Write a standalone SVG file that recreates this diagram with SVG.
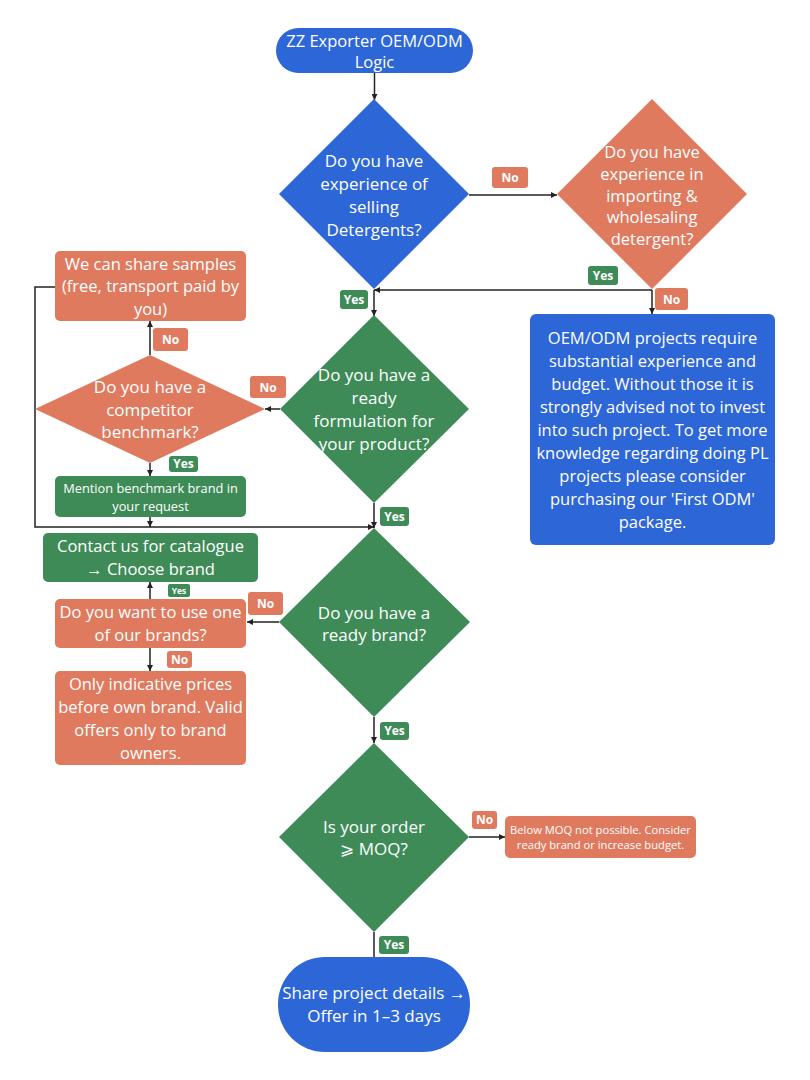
<svg xmlns="http://www.w3.org/2000/svg" width="810" height="1080" viewBox="0 0 810 1080">
<defs>
<marker id="ah" markerUnits="userSpaceOnUse" markerWidth="6" markerHeight="6" refX="6" refY="3" orient="auto"><path d="M0,0 L6,3 L0,6 z" fill="#222"/></marker>
<style>
.blue{fill:#2D66D6}
.orange{fill:#E07A5F}
.green{fill:#3E8B58}
.t{font-family:"Open Sans","Liberation Sans",Arial,sans-serif;fill:#fff;text-anchor:middle}
.f17{font-size:17px}
.f16{font-size:16.5px}
.f13{font-size:12.8px}
.f11{font-size:11.2px}
.lb{font-family:"Open Sans","Liberation Sans",Arial,sans-serif;fill:#fff;text-anchor:middle;font-weight:bold;font-size:12px}
.conn{fill:none;stroke:#222;stroke-width:1.5}
</style>
</defs>
<rect width="810" height="1080" fill="#fff"/>
<g id="connectors">
<path class="conn" d="M374.5,73 V100" marker-end="url(#ah)"/>
<path class="conn" d="M469,195 H557" marker-end="url(#ah)"/>
<path class="conn" d="M652,290 H374" marker-end="url(#ah)"/>
<path class="conn" d="M374,290 V316" marker-end="url(#ah)"/>
<path class="conn" d="M652,290 V314" marker-end="url(#ah)"/>
<path class="conn" d="M280,409 H265" marker-end="url(#ah)"/>
<path class="conn" d="M150,355 V321" marker-end="url(#ah)"/>
<path class="conn" d="M55,287 H35 V527 H374" marker-end="url(#ah)"/>
<path class="conn" d="M150,463 V476" marker-end="url(#ah)"/>
<path class="conn" d="M150,517 V527" marker-end="url(#ah)"/>
<path class="conn" d="M374,503 V528" marker-end="url(#ah)"/>
<path class="conn" d="M279,622 H247" marker-end="url(#ah)"/>
<path class="conn" d="M150,599 V582" marker-end="url(#ah)"/>
<path class="conn" d="M150,648 V671" marker-end="url(#ah)"/>
<path class="conn" d="M374,717 V743" marker-end="url(#ah)"/>
<path class="conn" d="M469,837 H505" marker-end="url(#ah)"/>
<path class="conn" d="M374,932 V957"/>
</g>
<g id="labels">
<rect class="orange" x="492" y="167" width="36" height="21" rx="3"/><text class="lb" x="510" y="182">No</text>
<rect class="green" x="588" y="266" width="30" height="19" rx="3"/><text class="lb" x="603" y="280">Yes</text>
<rect class="orange" x="655" y="288" width="33" height="22" rx="3"/><text class="lb" x="671.5" y="304">No</text>
<rect class="green" x="340" y="290" width="28" height="19" rx="3"/><text class="lb" x="354" y="304">Yes</text>
<rect class="orange" x="250" y="376" width="36" height="22" rx="3"/><text class="lb" x="268" y="392">No</text>
<rect class="orange" x="153" y="328" width="35" height="23" rx="3"/><text class="lb" x="170.5" y="344">No</text>
<rect class="green" x="169" y="456" width="29" height="16" rx="3"/><text class="lb" x="183.5" y="468">Yes</text>
<rect class="green" x="380" y="507" width="29" height="19" rx="3"/><text class="lb" x="394.5" y="521">Yes</text>
<rect class="orange" x="248" y="592" width="35" height="23" rx="3"/><text class="lb" x="265.5" y="608">No</text>
<rect class="green" x="168" y="584" width="22" height="13" rx="2"/><text class="lb" x="179" y="594" style="font-size:8.5px">Yes</text>
<rect class="orange" x="167" y="651" width="25" height="17" rx="3"/><text class="lb" x="179.5" y="664">No</text>
<rect class="green" x="380" y="722" width="29" height="18" rx="3"/><text class="lb" x="394.5" y="735">Yes</text>
<rect class="orange" x="472" y="811" width="25" height="18" rx="3"/><text class="lb" x="484.5" y="824">No</text>
<rect class="green" x="379" y="936" width="30" height="18" rx="3"/><text class="lb" x="394" y="949">Yes</text>
</g>
<g id="start">
<rect class="blue" x="276" y="28" width="197" height="45" rx="22.5"/>
<text class="t f16"><tspan x="374.5" y="47">ZZ Exporter OEM/ODM</tspan><tspan x="374.5" y="68">Logic</tspan></text>
</g>
<g id="q-selling">
<polygon class="blue" points="374,99 469,194 374,289 279,194"/>
<text class="t f17"><tspan x="374" y="167">Do you have</tspan><tspan x="374" y="190">experience of</tspan><tspan x="374" y="213">selling</tspan><tspan x="374" y="236">Detergents?</tspan></text>
</g>
<g id="q-importing">
<polygon class="orange" points="652,99 747,194 652,289 557,194"/>
<text class="t f16"><tspan x="652" y="158">Do you have</tspan><tspan x="652" y="180">experience in</tspan><tspan x="652" y="202">importing &amp;</tspan><tspan x="652" y="223">wholesaling</tspan><tspan x="652" y="245">detergent?</tspan></text>
</g>
<g id="advice">
<rect class="blue" x="530" y="314" width="245" height="231" rx="6"/>
<text class="t f16"><tspan x="652.5" y="344">OEM/ODM projects require</tspan><tspan x="652.5" y="367">substantial experience and</tspan><tspan x="652.5" y="390">budget. Without those it is</tspan><tspan x="652.5" y="413">strongly advised not to invest</tspan><tspan x="652.5" y="436">into such project. To get more</tspan><tspan x="652.5" y="459">knowledge regarding doing PL</tspan><tspan x="652.5" y="482">projects please consider</tspan><tspan x="652.5" y="505">purchasing our 'First ODM'</tspan><tspan x="652.5" y="528">package.</tspan></text>
</g>
<g id="q-formulation">
<polygon class="green" points="374,315 469,409 374,503 280,409"/>
<text class="t f17"><tspan x="374" y="381">Do you have a</tspan><tspan x="374" y="404">ready</tspan><tspan x="374" y="427">formulation for</tspan><tspan x="374" y="450">your product?</tspan></text>
</g>
<g id="q-benchmark">
<polygon class="orange" points="150,355 265,409 150,463 35,409"/>
<text class="t f17"><tspan x="150" y="393">Do you have a</tspan><tspan x="150" y="416">competitor</tspan><tspan x="150" y="438">benchmark?</tspan></text>
</g>
<g id="samples">
<rect class="orange" x="55" y="251" width="191" height="70" rx="5"/>
<text class="t f16"><tspan x="150.5" y="270">We can share samples</tspan><tspan x="150.5" y="292">(free, transport paid by</tspan><tspan x="150.5" y="315">you)</tspan></text>
</g>
<g id="mention">
<rect class="green" x="55" y="476" width="191" height="41" rx="5"/>
<text class="t f13"><tspan x="150.5" y="493">Mention benchmark brand in</tspan><tspan x="150.5" y="511">your request</tspan></text>
</g>
<g id="q-brand">
<polygon class="green" points="374,528 470,622 374,717 279,622"/>
<text class="t f17"><tspan x="374" y="619">Do you have a</tspan><tspan x="374" y="641">ready brand?</tspan></text>
</g>
<g id="catalogue">
<rect class="green" x="43" y="533" width="215" height="49" rx="5"/>
<text class="t f16"><tspan x="150.5" y="552">Contact us for catalogue</tspan><tspan x="150.5" y="575">→ Choose brand</tspan></text>
</g>
<g id="q-ourbrands">
<rect class="orange" x="55" y="599" width="191" height="49" rx="5"/>
<text class="t f16"><tspan x="150.5" y="618">Do you want to use one</tspan><tspan x="150.5" y="641">of our brands?</tspan></text>
</g>
<g id="indicative">
<rect class="orange" x="55" y="671" width="191" height="94" rx="5"/>
<text class="t f16"><tspan x="150.5" y="690">Only indicative prices</tspan><tspan x="150.5" y="713">before own brand. Valid</tspan><tspan x="150.5" y="736">offers only to brand</tspan><tspan x="150.5" y="759">owners.</tspan></text>
</g>
<g id="q-moq">
<polygon class="green" points="374,743 469,837 374,932 279,837"/>
<text class="t f17"><tspan x="374" y="833">Is your order</tspan><tspan x="374" y="855">⩾ MOQ?</tspan></text>
</g>
<g id="below-moq">
<rect class="orange" x="505" y="816" width="191" height="42" rx="5"/>
<text class="t f11"><tspan x="600.5" y="834">Below MOQ not possible. Consider</tspan><tspan x="600.5" y="849">ready brand or increase budget.</tspan></text>
</g>
<g id="end">
<rect class="blue" x="278" y="957" width="192" height="95" rx="47"/>
<text class="t f17"><tspan x="374" y="999">Share project details →</tspan><tspan x="374" y="1022">Offer in 1–3 days</tspan></text>
</g>
</svg>
